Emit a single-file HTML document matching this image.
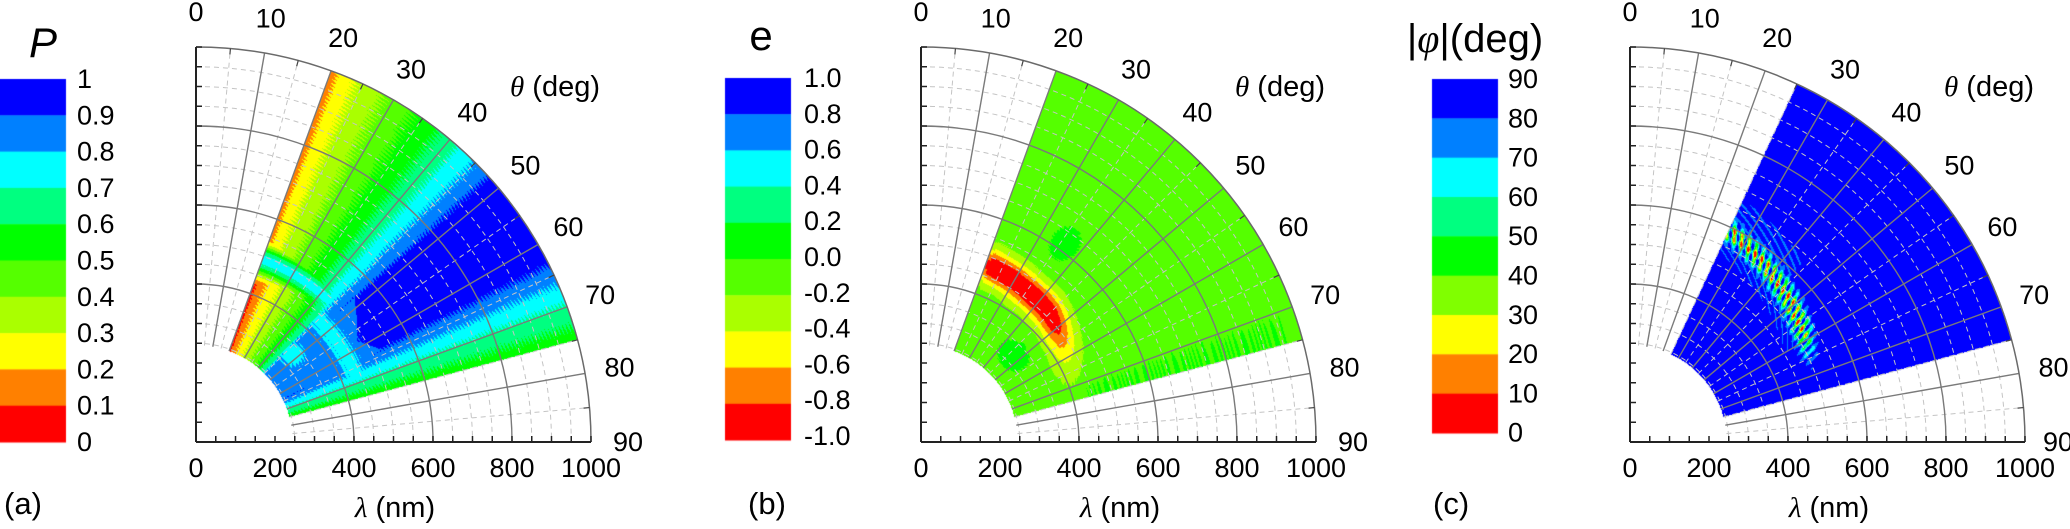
<!DOCTYPE html>
<html><head><meta charset="utf-8">
<style>
html,body{margin:0;padding:0;background:#fff;}
#wrap{position:relative;width:2070px;height:529px;overflow:hidden;}
canvas,svg{position:absolute;left:0;top:0;}
text{font-family:"Liberation Sans",sans-serif;fill:#000;}
</style></head><body>
<div id="wrap">
<canvas id="cv" width="2070" height="529"></canvas>
<svg id="sv" width="2070" height="529" viewBox="0 0 2070 529" xmlns="http://www.w3.org/2000/svg">
<!-- Panel a -->
<g transform="translate(196,442)" id="ga">
  <g id="gra"></g>
  <g font-size="27" text-anchor="middle" dominant-baseline="central">
    <text x="0" y="-430">0</text><text x="74.7" y="-423.5">10</text><text x="147.1" y="-404.1">20</text>
    <text x="215" y="-372.4">30</text><text x="276.4" y="-329.4">40</text><text x="329.4" y="-276.4">50</text>
    <text x="372.4" y="-215">60</text><text x="404.1" y="-147.1">70</text><text x="423.5" y="-74.7">80</text>
    <text x="432" y="0">90</text>
    <text x="0" y="26">0</text><text x="79" y="26">200</text><text x="158" y="26">400</text>
    <text x="237" y="26">600</text><text x="316" y="26">800</text><text x="395" y="26">1000</text>
  </g>
  <text x="359" y="-346" font-size="29" text-anchor="middle"><tspan font-style="italic" font-family="Liberation Serif">θ</tspan> (deg)</text>
  <text x="199" y="75" font-size="29" text-anchor="middle"><tspan font-style="italic" font-family="Liberation Serif">λ</tspan> (nm)</text>
  <text x="-153" y="-385" font-size="42" font-style="italic" text-anchor="middle">P</text>
  <text x="-192" y="72" font-size="31">(a)</text>
  <g font-size="27" dominant-baseline="central">
    <text x="-119" y="-363">1</text><text x="-119" y="-326.7">0.9</text><text x="-119" y="-290.4">0.8</text>
    <text x="-119" y="-254.1">0.7</text><text x="-119" y="-217.8">0.6</text><text x="-119" y="-181.5">0.5</text>
    <text x="-119" y="-145.2">0.4</text><text x="-119" y="-108.9">0.3</text><text x="-119" y="-72.6">0.2</text>
    <text x="-119" y="-36.3">0.1</text><text x="-119" y="0">0</text>
  </g>
</g>
<!-- Panel b -->
<g transform="translate(921,442)" id="gb">
  <g id="grb"></g>
  <g font-size="27" text-anchor="middle" dominant-baseline="central">
    <text x="0" y="-430">0</text><text x="74.7" y="-423.5">10</text><text x="147.1" y="-404.1">20</text>
    <text x="215" y="-372.4">30</text><text x="276.4" y="-329.4">40</text><text x="329.4" y="-276.4">50</text>
    <text x="372.4" y="-215">60</text><text x="404.1" y="-147.1">70</text><text x="423.5" y="-74.7">80</text>
    <text x="432" y="0">90</text>
    <text x="0" y="26">0</text><text x="79" y="26">200</text><text x="158" y="26">400</text>
    <text x="237" y="26">600</text><text x="316" y="26">800</text><text x="395" y="26">1000</text>
  </g>
  <text x="359" y="-346" font-size="29" text-anchor="middle"><tspan font-style="italic" font-family="Liberation Serif">θ</tspan> (deg)</text>
  <text x="199" y="75" font-size="29" text-anchor="middle"><tspan font-style="italic" font-family="Liberation Serif">λ</tspan> (nm)</text>
  <text x="-160" y="-392" font-size="42" text-anchor="middle">e</text>
  <text x="-173" y="72" font-size="31">(b)</text>
  <g font-size="27" dominant-baseline="central">
    <text x="-117" y="-364">1.0</text><text x="-117" y="-328.2">0.8</text><text x="-117" y="-292.4">0.6</text>
    <text x="-117" y="-256.6">0.4</text><text x="-117" y="-220.8">0.2</text><text x="-117" y="-185">0.0</text>
    <text x="-117" y="-149.2">-0.2</text><text x="-117" y="-113.4">-0.4</text><text x="-117" y="-77.6">-0.6</text>
    <text x="-117" y="-41.8">-0.8</text><text x="-117" y="-6">-1.0</text>
  </g>
</g>
<!-- Panel c -->
<g transform="translate(1630,442)" id="gc">
  <g id="grc"></g>
  <g font-size="27" text-anchor="middle" dominant-baseline="central">
    <text x="0" y="-430">0</text><text x="74.7" y="-423.5">10</text><text x="147.1" y="-404.1">20</text>
    <text x="215" y="-372.4">30</text><text x="276.4" y="-329.4">40</text><text x="329.4" y="-276.4">50</text>
    <text x="372.4" y="-215">60</text><text x="404.1" y="-147.1">70</text><text x="423.5" y="-74.7">80</text>
    <text x="428" y="0">90</text>
    <text x="0" y="26">0</text><text x="79" y="26">200</text><text x="158" y="26">400</text>
    <text x="237" y="26">600</text><text x="316" y="26">800</text><text x="395" y="26">1000</text>
  </g>
  <text x="359" y="-346" font-size="29" text-anchor="middle"><tspan font-style="italic" font-family="Liberation Serif">θ</tspan> (deg)</text>
  <text x="199" y="75" font-size="29" text-anchor="middle"><tspan font-style="italic" font-family="Liberation Serif">λ</tspan> (nm)</text>
  <text x="-155" y="-390" font-size="40" text-anchor="middle">|<tspan font-style="italic" font-family="Liberation Serif">φ</tspan>|(deg)</text>
  <text x="-197" y="72" font-size="31">(c)</text>
  <g font-size="27" dominant-baseline="central">
    <text x="-122" y="-363">90</text><text x="-122" y="-323.7">80</text><text x="-122" y="-284.4">70</text>
    <text x="-122" y="-245.1">60</text><text x="-122" y="-205.8">50</text><text x="-122" y="-166.5">40</text>
    <text x="-122" y="-127.2">30</text><text x="-122" y="-87.9">20</text><text x="-122" y="-48.6">10</text>
    <text x="-122" y="-9.3">0</text>
  </g>
</g>
</svg>
</div>
<script>
(function(){
var R=395, OY=442, S=R/1000, D=Math.PI/180;
var cv=document.getElementById('cv'), ctx=cv.getContext('2d');
var img=ctx.createImageData(2070,529), px=img.data;
for(var i=0;i<px.length;i+=4){px[i]=255;px[i+1]=255;px[i+2]=255;px[i+3]=255;}
function hex(h){return [parseInt(h.substr(1,2),16),parseInt(h.substr(3,2),16),parseInt(h.substr(5,2),16)];}
var map10=['#ff0000','#ff8000','#ffff00','#aaff00','#55ff00','#00ff00','#00ff80','#00ffff','#0080ff','#0000ff'].map(hex);
var map9=['#ff0000','#ff8000','#ffff00','#80ff00','#00ff00','#00ff80','#00ffff','#0080ff','#0000ff'].map(hex);
function lerp(pts,t){if(t<=pts[0][0])return pts[0][1];for(var i=1;i<pts.length;i++){if(t<=pts[i][0]){var a=pts[i-1],b=pts[i];return a[1]+(b[1]-a[1])*(t-a[0])/(b[0]-a[0]);}}return pts[pts.length-1][1];}
function fr(x){return x-Math.floor(x);}
var baseA=[[20,0.15],[22,0.25],[26,0.35],[31,0.45],[36,0.55],[40,0.65],[43,0.75],[46.5,0.85],[49,0.95],[62,0.95],[65,0.85],[68,0.75],[71,0.65],[75,0.55]];
function fa(r,t){
  var saw=0.05*(fr(r/9)-0.5);
  var b=lerp(baseA,t);
  var P=b;
  // blue wedge needs r beyond a boundary that grows toward lower angles
  var rb=t<58?480+(58-t)*6:480+(t-58)*8;
  if(b>0.9 && r<rb){P=0.85;}
  if(r<520){
    var s=Math.min(1,(520-r)/80);
    if(t>=44){
      var inner=0.85-0.1*Math.exp(-Math.pow((r-440)/30,2))+0.14*Math.exp(-Math.pow((r-275)/30,2)-Math.pow((t-62)/6,2))-0.12*Math.exp(-Math.pow((r-330)/30,2)-Math.pow((t-48)/5,2));
      P=Math.min(P,P*(1-s)+inner*s);
    } else {
      P=b-0.1*s;
    }
  }
  if(t<46) P=Math.max(P,0.74*Math.exp(-Math.pow((r-490)/45,2)));
  return P+saw;
}
function fb(r,t){
  var rc=t<45?480-(t-20)*0.8:460-(t-45)*2.2;
  var g=t<42?(t<21?0.8:1):Math.exp(-Math.pow((t-42)/18,2));
  var e=-0.1-0.95*g*Math.exp(-Math.pow((r-rc)/42,2));
  e+=0.2*Math.exp(-Math.pow((r-620)/55,2)-Math.pow((t-36)/4,2));
  e+=0.2*Math.exp(-Math.pow((r-320)/45,2)-Math.pow((t-47)/9,2));
  if(r>440&&r<960&&t>64){e+=0.22*Math.exp(-Math.pow((t-75)/5,2))*(0.5+0.5*Math.sin(r*0.45+Math.sin(r*0.07)*3));}
  e+=0.03*(fr(r/9)-0.5);
  return e;
}
function fc(r,t){
  var v=86;
  var rc=590-(t-25)*2.2;
  var A=t<55?1:Math.exp(-Math.pow((t-55)/8,2));
  var d=r-rc;
  var m=0.5+0.5*Math.cos(t*3.0+r*0.12);
  v-=80*A*m*Math.exp(-Math.pow(d/24,2));
  v+=15*A*Math.sin(r*0.25)*Math.exp(-Math.pow(d/24,2));
  if(d>15&&d<130&&t<44){var st=Math.sin(r*0.35+t*1.8);if(st>0.55)v=Math.min(v,72+(d/130)*12);}
  if(d<-15&&d>-60&&t<60){var st2=Math.sin(r*0.4+t*2.2);if(st2>0.7)v=Math.min(v,74);}
  return v;
}
function paint(ox,t0,t1,f,lo,hi,map){
  var n=map.length;
  for(var y=OY-R-2;y<=OY;y++){for(var x=ox;x<=ox+R+2;x++){
    var dx=(x+0.5-ox)/S, dy=(OY-(y+0.5))/S;
    var r=Math.sqrt(dx*dx+dy*dy); if(r<245||r>1000)continue;
    var t=Math.atan2(dx,dy)/D; if(t<t0||t>t1)continue;
    var v=f(r,t); var k=Math.floor((v-lo)/(hi-lo)*n); if(k<0)k=0; if(k>n-1)k=n-1;
    var c=map[k], i=(y*2070+x)*4; px[i]=c[0];px[i+1]=c[1];px[i+2]=c[2];
  }}
}
paint(196,20,75,fa,0,1,map10);
paint(921,20,75,fb,-1,1,map10);
paint(1630,25,75,fc,0,90,map9);
ctx.putImageData(img,0,0);
function cbar(x,y0,y1,map){var n=map.length,h=(y1-y0)/n;for(var k=0;k<n;k++){var c=map[n-1-k];ctx.fillStyle='rgb('+c+')';ctx.fillRect(x,y0+k*h,66,h+0.5);}}
cbar(0,79,442,map10);
cbar(725,78,440,map10);
cbar(1432,79,433,map9);
var NS='http://www.w3.org/2000/svg';
function el(g,tag,a){var e=document.createElementNS(NS,tag);for(var k in a)e.setAttribute(k,a[k]);g.appendChild(e);return e;}
function pt(r,t){return [(r*S*Math.sin(t*D)).toFixed(2),(-r*S*Math.cos(t*D)).toFixed(2)];}
function arc(r,t0,t1){var a=pt(r,t0),b=pt(r,t1);var rr=r*S;return 'M'+a[0]+' '+a[1]+' A'+rr+' '+rr+' 0 0 1 '+b[0]+' '+b[1];}
function grid(id){
  var g=document.getElementById(id);
  for(var r=250;r<1000;r+=50){ if(r%200==0)continue; el(g,'path',{d:arc(r,0,90),fill:'none',stroke:'#c4c4c4','stroke-width':1,'stroke-dasharray':'5,4'}); }
  for(var t=5;t<90;t+=10){var a=pt(245,t),b=pt(1000,t);el(g,'line',{x1:a[0],y1:a[1],x2:b[0],y2:b[1],stroke:'#c4c4c4','stroke-width':1,'stroke-dasharray':'5,4'});}
  [400,600,800].forEach(function(r){el(g,'path',{d:arc(r,0,90),fill:'none',stroke:'#7a7a7a','stroke-width':1.4});});
  for(var t=10;t<90;t+=10){var a=pt(245,t),b=pt(1000,t);el(g,'line',{x1:a[0],y1:a[1],x2:b[0],y2:b[1],stroke:'#7a7a7a','stroke-width':1.4});}
  el(g,'path',{d:arc(1000,0,90),fill:'none',stroke:'#6a6a6a','stroke-width':1.5});
  for(var t=5;t<90;t+=10){var a=pt(1000,t),b=pt(985,t);el(g,'line',{x1:a[0],y1:a[1],x2:b[0],y2:b[1],stroke:'#444','stroke-width':1.2});}
  el(g,'line',{x1:0,y1:0,x2:0,y2:-R,stroke:'#222','stroke-width':2});
  el(g,'line',{x1:0,y1:0,x2:R,y2:0,stroke:'#222','stroke-width':2});
  for(var r=50;r<=1000;r+=50){var p=r*S;
    el(g,'line',{x1:p,y1:0,x2:p,y2:-6,stroke:'#222','stroke-width':1.5});
    el(g,'line',{x1:0,y1:-p,x2:6,y2:-p,stroke:'#222','stroke-width':1.5});}
}
grid('gra');grid('grb');grid('grc');
})();
</script>
</body></html>
